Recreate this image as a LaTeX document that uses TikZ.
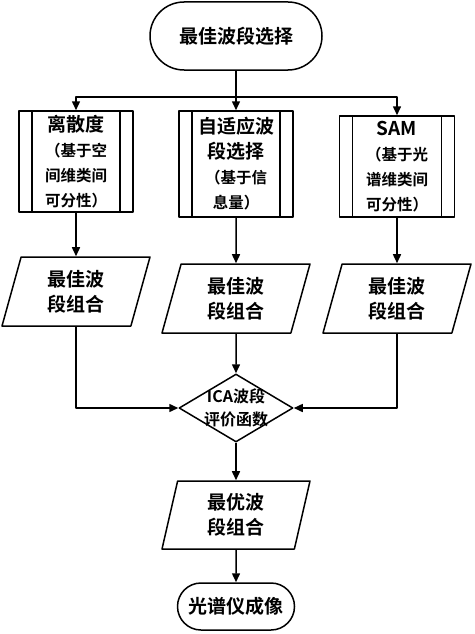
\documentclass[tikz,border=0pt]{standalone}
\usepackage{fontspec}
\setmainfont{Noto Sans CJK SC}[BoldFont={Noto Sans CJK SC Bold}]
\usetikzlibrary{arrows.meta,shapes.geometric,shapes.misc}
\newcommand{\chunho}{\fontsize{15.5}{22}\selectfont}
\begin{document}
\begin{tikzpicture}[x=1pt,y=-1pt,font=\bfseries\fontsize{19}{25}\selectfont, line join=round, line width=1.5pt, >={Triangle[length=9pt,width=8pt]}]
	%%%%%%%%%KIEU
	\tikzset{ketthuc/.style={draw,rounded rectangle,inner sep=0pt}}
	\tikzset{xuly/.style={draw,rectangle,minimum width=114pt,inner sep=0pt,align=center,
			path picture={
				\draw([xshift=13pt]path picture bounding box.north west)--([xshift=13pt]path picture bounding box.south west)
				([xshift=-13pt]path picture bounding box.north east)--([xshift=-13pt]path picture bounding box.south east);
	}}}
	\tikzset{dulieu/.style={draw,trapezium,trapezium left angle=66,trapezium right angle=114,trapezium stretches body,minimum width=148pt,minimum height=69pt,inner sep=0pt,align=center}}
	\tikzset{quyetdinh/.style={draw,diamond,aspect=1.7,inner sep=-6pt,minimum width=114pt,minimum height=68pt,align=center,font=\bfseries\fontsize{16}{23}\selectfont}}
	\useasboundingbox(0,0)rectangle(474,634);
	%%%%%%%%%%%%%%%%%%%
	\node[ketthuc,minimum width=172pt,minimum height=68pt](batdau)at(236,36){最佳波段选择};
	\coordinate(tach)at(236,97);
	\node[xuly,minimum height=101pt](pp1)at(76,161.5){离散度\\\chunho （基于空\\\chunho 间维类间\\\chunho 可分性）};
	\node[xuly,minimum height=106pt](pp2)at(236,164){自适应波\\段选择\\\chunho （基于信\\\chunho 息量）};
	\node[xuly,minimum height=101pt,minimum width=115pt](pp3)at(397,166.5){SAM\\\chunho （基于光\\\chunho 谱维类间\\\chunho 可分性）};
	%%%%%%%%%%%%%%%%%%%
	\node[dulieu](th1)at(76,291.5){最佳波\\段组合};
	\node[dulieu](th2)at(236,298.5){最佳波\\段组合};
	\node[dulieu](th3)at(397,298.5){最佳波\\段组合};
	\node[quyetdinh](ica)at(236,408){ICA波段\\评价函数};
	\node[dulieu,trapezium left angle=70,trapezium right angle=110,minimum height=68pt](toiuu)at(236,515){最优波\\段组合};
	\node[ketthuc,minimum width=117pt,minimum height=47pt](ketqua)at(236,606.5){光谱仪成像};
	%%%%%%%%%%%%%%%%%%%
	\draw(batdau)--(tach);
	\draw[->](tach)--(pp2);
	\draw[->](tach)-|(pp1);
	\draw[->](tach)-|(pp3);
	\foreach \i in{1,2,3}{
		\draw[->](pp\i)--(th\i);
	}
	\draw[->](th1)|-(ica);
	\draw[->](th2)--(ica);
	\draw[->](th3)|-(ica);
	\draw[->](ica)--(toiuu);
	\draw[->](toiuu)--(ketqua);
\end{tikzpicture}
\end{document}
